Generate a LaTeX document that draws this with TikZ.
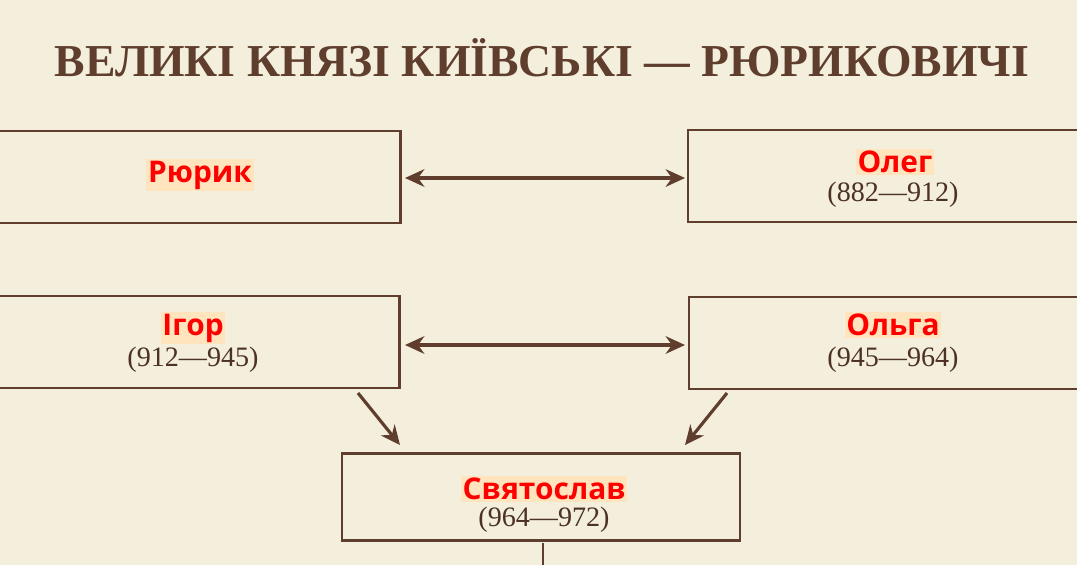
\documentclass[tikz,border=0pt]{standalone}
\usepackage{fontspec}
\setmainfont{Liberation Serif}
\newfontfamily\namefont{Open Sans}
\usetikzlibrary{arrows.meta}
\definecolor{paper}{RGB}{244,238,220}
\definecolor{ink}{RGB}{95,62,45}
\definecolor{mark}{RGB}{255,228,190}
\begin{document}
\begin{tikzpicture}[x=0.02cm,y=-0.02cm]
  \tikzset{box/.style={draw=ink, line width=1.2pt, minimum height=1.85cm, inner sep=0pt},
    princename/.style={fill=mark, text=red, font=\namefont\bfseries\fontsize{17}{17}\selectfont, inner sep=1pt},
    reign/.style={text=ink!80!black, font=\fontsize{16}{16}\selectfont},
    link/.style={draw=ink, line width=1.8pt, {Stealth[length=11pt,width=10pt]}-{Stealth[length=11pt,width=10pt]}},
    down/.style={draw=ink, line width=1.8pt, -{Stealth[length=11pt,width=10pt]}}}
  \fill[paper] (0,0) rectangle (1077,565);
  \useasboundingbox (0,0) rectangle (1077,565);
  \node (title) [text=ink, font=\bfseries\fontsize{26}{26}\selectfont] at (542,58) {ВЕЛИКІ КНЯЗІ КИЇВСЬКІ — РЮРИКОВИЧІ};
  % first row
  \node (rurik) [box, minimum width=8.3cm] at (193,177) {};
  \node (oleg) [box, minimum width=8.3cm] at (895,176) {};
  \node (rurikname) [princename] at (200,175) {Рюрик};
  \node (olegname) [princename] at (895,162) {Олег};
  \node (olegdate) [reign] at (893,195) {(882—912)};
  % second row
  \node (igor) [box, minimum width=8.3cm] at (192,342) {};
  \node (olga) [box, minimum width=8.3cm] at (896,343) {};
  \node (igorname) [princename] at (193,328) {Ігор};
  \node (igordate) [reign] at (193,360) {(912—945)};
  \node (olganame) [princename] at (893,325) {Ольга};
  \node (olgadate) [reign] at (893,360) {(945—964)};
  % svyatoslav
  \node (svyat) [box, minimum width=7.96cm, minimum height=1.74cm] at (541,497) {};
  \node (svyatname) [princename] at (544,489) {Святослав};
  \node (svyatdate) [reign] at (544,520) {(964—972)};
  % arrow ends
  \coordinate (a1) at (405,178); \coordinate (b1) at (685,178);
  \coordinate (a2) at (405,345); \coordinate (b2) at (685,345);
  \coordinate (igorout) at (358,393); \coordinate (svyatinl) at (400,445);
  \coordinate (olgaout) at (727,393); \coordinate (svyatinr) at (685,445);
  \coordinate (tail) at (543,565); \coordinate (svyatbot) at (543,543);
  \draw[link] (a1) -- (b1);
  \draw[link] (a2) -- (b2);
  \draw[down] (igorout) -- (svyatinl);
  \draw[down] (olgaout) -- (svyatinr);
  \draw[ink, line width=1.6pt] (svyatbot) -- (tail);
\end{tikzpicture}
\end{document}
